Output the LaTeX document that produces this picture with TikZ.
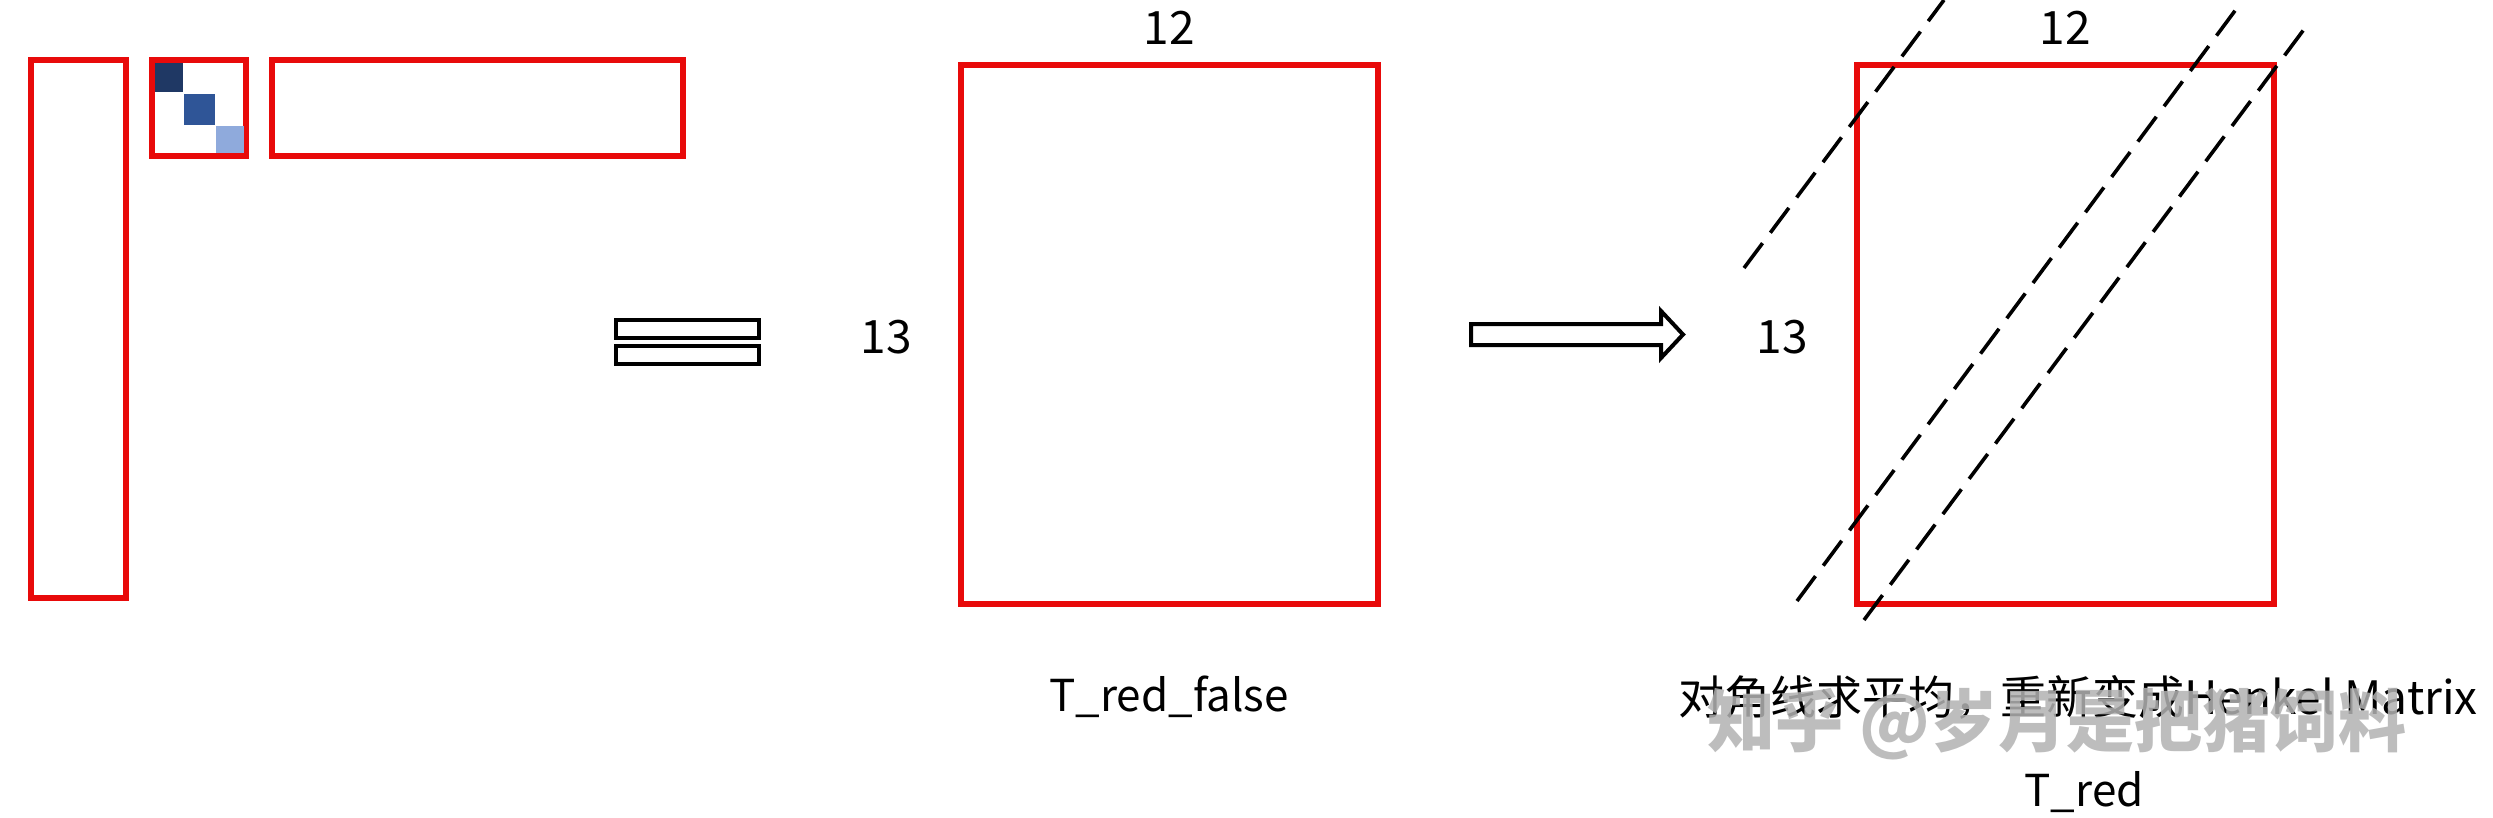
\documentclass[tikz,border=0pt]{standalone}
\usepackage{fontspec}
\setmainfont{Noto Sans CJK SC}
\newfontfamily\wmfont{Noto Sans CJK SC}
\definecolor{boxred}{RGB}{232,10,10}
\definecolor{bdark}{RGB}{31,56,100}
\definecolor{bmid}{RGB}{47,85,151}
\definecolor{blight}{RGB}{143,170,220}
\tikzset{
  redbox/.style={draw=boxred, line width=6pt, rectangle, inner sep=0pt},
  eqbox/.style={draw=black, line width=4pt, rectangle, inner sep=0pt, minimum width=143pt, minimum height=18pt},
  dimlabel/.style={inner sep=0pt, font=\fontsize{46}{52}\selectfont},
  caption/.style={inner sep=0pt, font=\fontsize{44}{50}\selectfont},
  diagline/.style={draw=black, line width=3.6pt, dash pattern=on 31pt off 13pt},
  cell/.style={inner sep=0pt, rectangle}
}
\begin{document}
\begin{tikzpicture}[x=1pt,y=-1pt]
\useasboundingbox (0,0) rectangle (2493,817);
% left factors
\node[redbox, minimum width=95pt, minimum height=538pt] (U) at (78.5,329) {};
\node[redbox, minimum width=94pt, minimum height=96pt] (S) at (199,108) {};
\node[redbox, minimum width=411pt, minimum height=96pt] (V) at (477.5,108) {};
\node[cell, fill=bdark, minimum width=28pt, minimum height=29pt] (s1) at (169,77.5) {};
\node[cell, fill=bmid, minimum width=31pt, minimum height=31pt] (s2) at (199.5,109.5) {};
\node[cell, fill=blight, minimum width=28pt, minimum height=27pt] (s3) at (230,139.5) {};
% equals sign
\node[eqbox] (eqA) at (687.5,328.5) {};
\node[eqbox] (eqB) at (687.5,355) {};
% middle matrix
\node[redbox, minimum width=417pt, minimum height=539pt] (M) at (1169.5,334.5) {};
\node[dimlabel] (m12) at (1169.5,28) {12};
\node[dimlabel] (m13) at (886,337) {13};
\node[caption] (mcap) at (1169,697) {T\_red\_false};
% block arrow
\coordinate (arrS) at (1471,334.5);
\draw[line width=4pt, line join=miter, fill=white]
  (1471,324) -- (1661,324) -- (1661,311) -- (1683,334.5) -- (1661,358) -- (1661,345) -- (1471,345) -- cycle;
% right matrix
\node[redbox, minimum width=417pt, minimum height=539pt] (R) at (2065.5,334.5) {};
\node[dimlabel] (r12) at (2065.5,28) {12};
\node[dimlabel] (r13) at (1782,337) {13};
% anti-diagonal dashed lines
\coordinate (d1a) at (1744,268);
\coordinate (d1b) at (1944,0);
\coordinate (d2a) at (1797,601);
\coordinate (d2b) at (2237,8);
\coordinate (d3a) at (1864,620);
\coordinate (d3b) at (2305,28);
\draw[diagline] (d1a) -- (d1b);
\draw[diagline] (d2a) -- (d2b);
\draw[diagline] (d3a) -- (d3b);
% captions
\node[caption, font=\fontsize{46}{52}\selectfont] (rcap) at (2078,697) {对角线求平均，重新变成Henkel Matrix};
\node[caption] (rname) at (2084,792) {T\_red};
\node[inner sep=0pt, text=black!30, opacity=0.85, font=\wmfont\bfseries\fontsize{68}{74}\selectfont] (wm) at (2057,724) {知乎 @岁月是把猪饲料};
\end{tikzpicture}
\end{document}
